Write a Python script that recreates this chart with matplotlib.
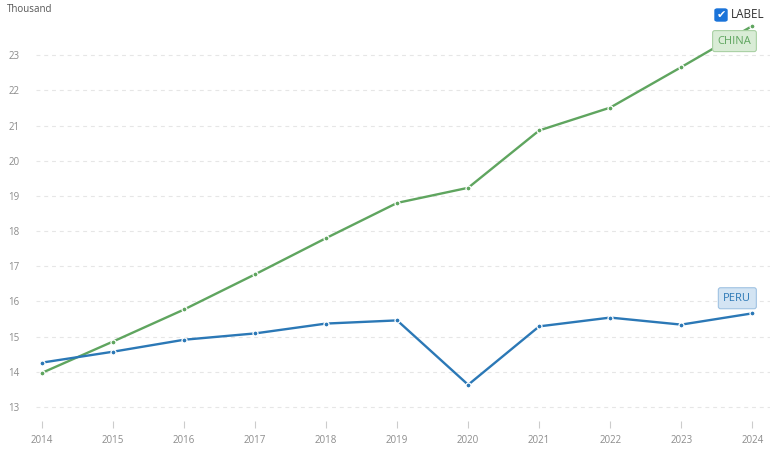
"""Line chart: China vs Peru, values in thousands"""

import matplotlib.pyplot as plt
from matplotlib.patches import FancyBboxPatch

years = [2014, 2015, 2016, 2017, 2018, 2019, 2020, 2021, 2022, 2023, 2024]
china = [13.97, 14.86, 15.77, 16.77, 17.80, 18.80, 19.23, 20.86, 21.51, 22.66, 23.83]
peru = [14.26, 14.57, 14.91, 15.09, 15.37, 15.46, 13.63, 15.29, 15.54, 15.34, 15.66]
yticks = [13, 14, 15, 16, 17, 18, 19, 20, 21, 22, 23]

green = '#5fa55f'
blue = '#2b78b6'
grey = '#8c8c8c'

plt.rcParams['font.family'] = ['Open Sans', 'DejaVu Sans']

fig = plt.figure(figsize=(7.76, 4.54), dpi=100)
fig.set_facecolor('w')
W, H = 776, 454
ax = fig.add_axes([36 / W, 1 - 421 / H, (770 - 36) / W, (421 - 20) / H])

for y in yticks:
    ax.axhline(y, color='#e6e6e6', lw=0.8, ls=(0, (3.5, 3.5)), zorder=0)

for vals, c in [(china, green), (peru, blue)]:
    ax.plot(years, vals, color=c, lw=1.7, marker='o', ms=3.6,
            mfc=c, mec='w', mew=0.9, zorder=3)

ax.set_xlim(2013.915, 2024.25)
ax.set_ylim(12.6, 24.0)
ax.set_xticks(years)
ax.set_yticks(yticks)
ax.tick_params(axis='x', length=5, width=0.8, color='#cccccc', labelcolor=grey,
               labelsize=7, pad=5)
ax.tick_params(axis='y', length=0, labelcolor=grey, labelsize=7, pad=12)
for s in ax.spines.values():
    s.set_visible(False)

fig.text(7 / W, 1 - 9 / H, 'Thousand', fontsize=7, color='#555555', va='center')

# series labels near the last point
ax.text(2023.75, 23.4, 'CHINA', ha='center', va='center', fontsize=8, color=green, zorder=5,
        bbox=dict(boxstyle='round,pad=0.45,rounding_size=0.2', fc='#d9ecd6', ec='#a8d0a3', lw=0.8))
ax.text(2023.79, 16.09, 'PERU', ha='center', va='center', fontsize=8, color=blue, zorder=5,
        bbox=dict(boxstyle='round,pad=0.45,rounding_size=0.2', fc='#d3e4f3', ec='#9fc2e2', lw=0.8))

# checkbox legend
cb = FancyBboxPatch((715 / W, 1 - 21 / H), 12 / W, 12 / H,
                    boxstyle='round,pad=0,rounding_size=0.003', transform=fig.transFigure,
                    fc='#1a73d9', ec='#1a73d9', zorder=10)
fig.patches.append(cb)
fig.text(721 / W, 1 - 15 / H, '\u2714', fontsize=8, color='w', ha='center', va='center',
         family=['DejaVu Sans'], zorder=12)
fig.text(731 / W, 1 - 15 / H, 'LABEL', fontsize=8.5, color='#333333', va='center')

fig.savefig('out.png', dpi=100)
